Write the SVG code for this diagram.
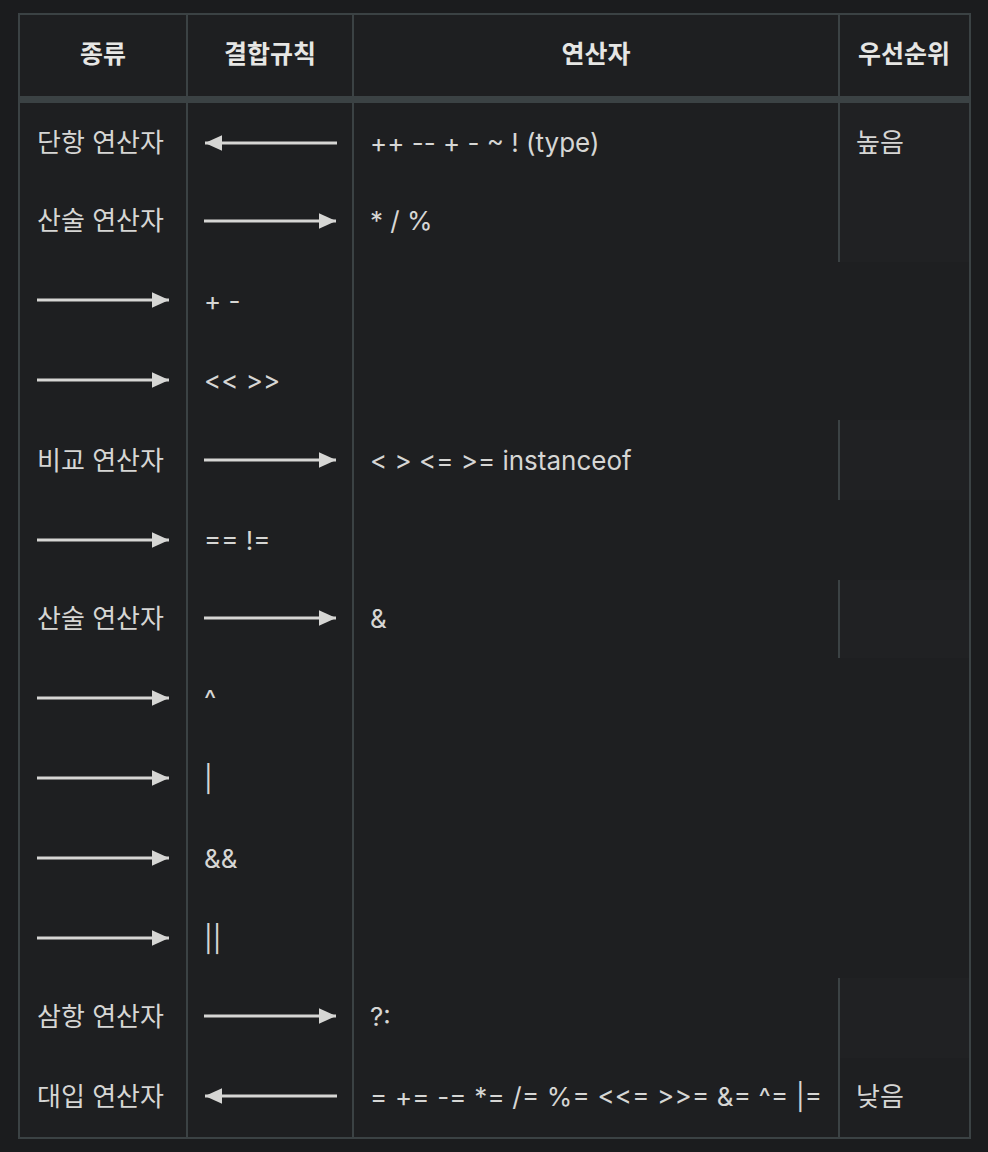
<svg xmlns="http://www.w3.org/2000/svg" width="988" height="1152" viewBox="0 0 988 1152">
<style>
text{font-family:Inter,"Noto Sans CJK KR",sans-serif;font-size:26px;fill:#d6d6d4}
.h{font-weight:700;font-size:25px;fill:#e6e6e4;text-anchor:middle}
.b{stroke:#3b4244;stroke-width:2;fill:none}
.a{stroke:#d6d6d4;stroke-width:3}
</style>
<defs>
<marker id="ah" viewBox="0 0 10 10" refX="10" refY="5" markerWidth="17" markerHeight="17" markerUnits="userSpaceOnUse" orient="auto-start-reverse"><path d="M0,0.5L10,5L0,9.5z" fill="#d6d6d4"/></marker>
</defs>
<rect width="988" height="1152" fill="#1b1c1e"/>
<rect x="19" y="14" width="951" height="1124" fill="#1e1f21"/>
<g fill="#202123">
<rect x="839" y="103" width="131" height="159"/>
<rect x="839" y="420" width="131" height="80"/>
<rect x="839" y="580" width="131" height="78"/>
<rect x="839" y="978" width="131" height="80"/>
</g>
<g id="grid" class="b">
<rect x="19" y="14" width="951" height="1124"/>
<line x1="187" y1="14" x2="187" y2="1138"/>
<line x1="353" y1="14" x2="353" y2="1138"/>
<line x1="839" y1="14" x2="839" y2="262"/>
<line x1="839" y1="420" x2="839" y2="500"/>
<line x1="839" y1="580" x2="839" y2="658"/>
<line x1="839" y1="978" x2="839" y2="1138"/>
<rect x="20" y="96" width="949" height="7" fill="#3b4244" stroke="none"/>
</g>
<g id="header">
<text class="h" x="103" y="63">종류</text>
<text class="h" x="270" y="63">결합규칙</text>
<text class="h" x="596" y="63">연산자</text>
<text class="h" x="904" y="63">우선순위</text>
</g>
<g id="col1">
<text x="37" y="152">단항 연산자</text>
<text x="37" y="230">산술 연산자</text>
<text x="37" y="470">비교 연산자</text>
<text x="37" y="628">산술 연산자</text>
<text x="37" y="1026">삼항 연산자</text>
<text x="37" y="1106">대입 연산자</text>
</g>
<g id="connectors" class="a" marker-end="url(#ah)">
<line x1="337" y1="143" x2="205" y2="143"/>
<line x1="204" y1="221" x2="336" y2="221"/>
<line x1="37" y1="300" x2="169" y2="300"/>
<line x1="37" y1="380" x2="169" y2="380"/>
<line x1="204" y1="460" x2="336" y2="460"/>
<line x1="37" y1="540" x2="169" y2="540"/>
<line x1="204" y1="618" x2="336" y2="618"/>
<line x1="37" y1="698" x2="169" y2="698"/>
<line x1="37" y1="778" x2="169" y2="778"/>
<line x1="37" y1="858" x2="169" y2="858"/>
<line x1="37" y1="938" x2="169" y2="938"/>
<line x1="204" y1="1016" x2="336" y2="1016"/>
<line x1="337" y1="1096" x2="205" y2="1096"/>
</g>
<g id="col2">
<text x="204" y="310">+ -</text>
<text x="204" y="390">&lt;&lt; &gt;&gt;</text>
<text x="204" y="550">== !=</text>
<text x="204" y="708">^</text>
<text x="204" y="788">|</text>
<text x="204" y="868">&amp;&amp;</text>
<text x="204" y="948">||</text>
</g>
<g id="col3">
<text x="370" y="152">++ -- + - ~ ! (type)</text>
<text x="370" y="230">* / %</text>
<text x="370" y="470">&lt; &gt; &lt;= &gt;= instanceof</text>
<text x="370" y="628">&amp;</text>
<text x="370" y="1026">?:</text>
<text x="370" y="1106" textLength="452">= += -= *= /= %= &lt;&lt;= &gt;&gt;= &amp;= ^= |=</text>
</g>
<g id="col4">
<text x="856" y="152">높음</text>
<text x="856" y="1106">낮음</text>
</g>
</svg>
